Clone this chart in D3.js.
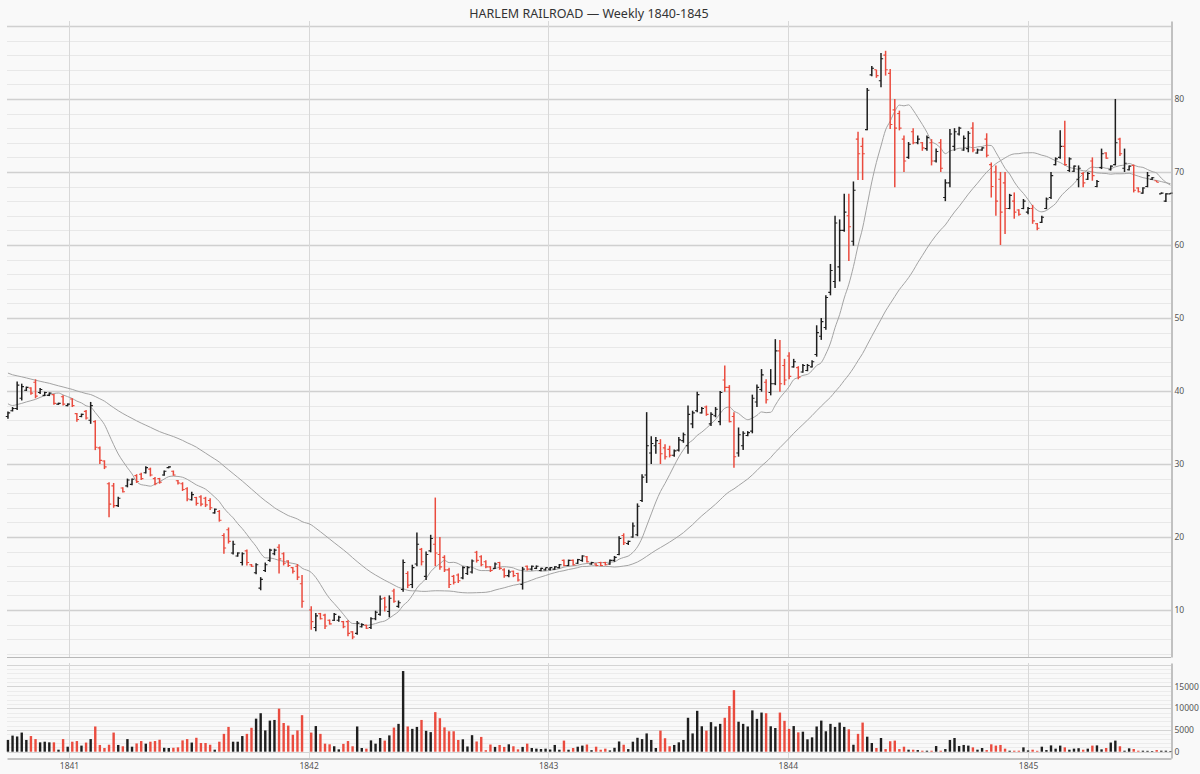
<!DOCTYPE html>
<html>
<head>
<meta charset="utf-8">
<script src="https://cdn.jsdelivr.net/npm/d3@7"></script>
<style>
  html, body { margin: 0; padding: 0; background: #f9f9f9; }
  svg { display: block; font-family: "Noto Sans", "DejaVu Sans", sans-serif; }
</style>
</head>
<body>
<svg id="chart" width="1200" height="774"></svg>
<script>
// Chart text
const title = "HARLEM RAILROAD \u2014 Weekly 1840-1845";

// Weekly bars start here, one every 7 days (null = no quote that week)
const firstWeek = [1840, 8, 30];

const open = [
  36.5, 37.3, 37.6, 39.0, 40.1, 40.4, 41.2, 39.8, 39.4, 39.4,
  39.5, 38.2, 39.2, 38.0, 38.9, 36.9, 36.5, 37.2, 36.0, 35.8,
  32.2, 30.4, 27.3, 27.0, 24.3, 26.7, 27.0, 27.2, 28.4, 28.6,
  28.8, 29.3, 28.0, 28.0, 28.5, 29.5, 29.0, 27.7, 27.3, 26.6,
  25.1, 25.4, 25.5, 25.3, 25.0, 23.3, 23.5, 20.2, 21.0, 17.8,
  17.4, 16.5, 18.1, 16.2, 15.1, 13.0, 15.4, 16.8, 17.7, 18.6,
  17.7, 16.7, 15.8, 16.0, 13.6, null, 10.0, 7.6, 9.5, 9.3,
  8.6, 8.6, 8.6, 8.4, 8.4, 7.0, 6.8, 7.7, 7.9, 7.6,
  8.8, 9.4, 11.6, 9.8, 12.6, 10.5, 12.8, 15.0, 13.5, 16.3,
  18.3, 14.6, 18.1, 19.0, 17.6, 17.2, 15.5, 14.6, 14.8, 14.4,
  15.0, 15.2, 17.9, 17.3, 16.6, 15.9, 15.7, 16.5, 15.5, 14.7,
  15.3, 15.0, 13.5, 16.0, 15.6, 15.7, 15.4, 15.5, 15.6, 15.6,
  15.8, 16.8, 16.1, 16.8, 16.4, 16.8, 17.3, 16.3, 16.3, 16.5,
  16.5, 16.3, 16.8, 17.6, 20.2, 19.1, 20.0, 20.3, 25.0, 28.5,
  31.5, 32.5, 32.8, 32.2, 32.0, 31.2, 31.9, 33.2, 32.5, 35.5,
  37.3, 37.0, 37.8, 35.5, 36.6, 35.8, 41.5, 40.5, 36.5, 31.5,
  32.5, 33.9, 34.5, 38.5, 40.2, 41.2, 39.8, 41.0, 45.5, 43.5,
  44.8, 43.3, 43.2, 42.6, 42.8, 43.3, 45.0, 47.5, 48.7, 53.5,
  55.0, 57.0, 62.0, 64.0, 60.5, 74.5, 73.5, 75.8, 83.3, 84.0,
  82.5, 86.0, 83.5, 78.5, 78.0, 74.5, 72.0, 75.5, 74.0, 74.0,
  73.2, 74.0, 71.5, 74.0, 66.5, 68.5, 73.5, 75.2, 73.0, 73.2,
  76.0, 72.6, 73.0, 74.5, 71.0, 70.0, 69.0, 68.5, 65.0, 66.0,
  64.8, 65.0, 64.5, 65.0, 62.9, 63.1, 65.0, 66.5, 71.0, 72.0,
  73.5, 70.2, 70.1, 69.0, 69.8, 69.0, 71.5, 68.0, 70.6, 72.6,
  70.3, 71.0, 74.5, 70.5, 70.3, 70.9, 67.8, 67.1, 68.0, 69.0,
  68.8, 67.0, 66.0, 67.0
];

const high = [
  37.2, 37.8, 41.3, 41.0, 40.6, 40.5, 41.6, 40.4, 39.9, 39.8,
  39.6, 38.4, 39.4, 38.3, 39.0, 37.0, 36.9, 37.4, 38.5, 36.0,
  32.4, 30.5, 27.5, 27.4, 25.5, 26.8, 28.0, 28.0, 28.6, 28.8,
  29.7, 29.5, 28.2, 28.1, 29.1, 29.7, 29.1, 27.8, 27.5, 26.8,
  26.2, 25.5, 25.7, 25.5, 25.3, 23.9, 23.7, 20.5, 21.3, 19.5,
  17.9, 17.9, 18.3, 16.3, 16.4, 14.5, 16.5, 18.4, 18.4, 19.0,
  17.9, 16.8, 15.9, 16.3, 14.8, null, 10.5, 9.6, 9.6, 9.5,
  8.7, 9.6, 9.2, 8.5, 8.6, 7.1, 8.5, 8.2, 8.0, 9.0,
  9.9, 12.0, 11.8, 12.0, 12.9, 11.3, 16.9, 15.3, 16.2, 20.6,
  18.5, 18.0, 20.3, 25.4, 20.0, 17.5, 15.8, 14.8, 15.0, 16.0,
  16.0, 16.9, 18.1, 17.5, 16.8, 16.0, 16.5, 16.6, 15.7, 15.5,
  15.4, 15.1, 15.9, 16.1, 16.1, 16.1, 15.8, 15.8, 15.9, 16.0,
  16.3, 16.9, 16.9, 16.9, 17.0, 17.5, 17.4, 16.6, 16.4, 16.6,
  16.6, 16.9, 17.4, 20.1, 20.5, 19.5, 22.0, 24.6, 28.6, 37.1,
  33.8, 33.7, 33.4, 32.7, 32.5, 32.0, 33.7, 34.3, 38.0, 37.3,
  39.9, 37.8, 38.0, 37.1, 37.8, 40.0, 43.5, 40.8, 37.1, 35.0,
  34.5, 34.5, 39.5, 40.9, 43.0, 41.6, 43.0, 47.1, 47.0, 44.4,
  45.3, 44.4, 43.4, 43.7, 43.7, 44.2, 49.0, 50.0, 53.1, 57.4,
  64.0, 63.5, 67.0, 67.0, 68.7, 75.5, 74.7, 81.5, 84.5, 84.0,
  86.3, 86.6, 84.1, 80.0, 78.4, 75.0, 74.1, 76.0, 75.0, 74.1,
  75.0, 74.5, 73.2, 74.5, 69.0, 75.9, 76.0, 76.2, 75.0, 75.6,
  76.8, 73.2, 73.4, 75.3, 71.3, 70.9, 70.0, 70.0, 67.0, 67.2,
  64.9, 66.3, 65.2, 65.5, 63.0, 64.0, 66.5, 70.0, 72.0, 75.7,
  77.0, 72.0, 70.9, 70.9, 70.0, 70.0, 72.0, 68.9, 73.2, 72.7,
  70.9, 80.0, 74.7, 73.2, 70.9, 71.0, 67.9, 67.9, 70.0, 69.3,
  68.8, 67.2, 67.1, 67.1
];

const low = [
  36.2, 37.2, 37.4, 38.7, 40.0, 39.5, 39.0, 39.6, 39.3, 39.3,
  38.1, 38.1, 38.0, 37.9, 37.8, 35.8, 36.4, 36.1, 35.5, 31.9,
  30.0, 29.3, 22.7, 24.0, 24.1, 26.1, 26.8, 27.1, 27.4, 27.8,
  28.7, 28.3, 27.1, 27.3, 28.4, 29.4, 28.4, 27.2, 26.3, 24.9,
  25.0, 24.3, 24.2, 24.1, 23.7, 23.2, 22.1, 17.7, 19.1, 17.6,
  17.3, 16.1, 16.1, 15.9, 14.9, 12.7, 15.2, 16.6, 17.5, 15.0,
  16.1, 15.9, 15.0, 14.1, 10.3, null, 7.3, 7.1, 8.7, 7.4,
  8.0, 8.5, 8.4, 7.5, 6.4, 6.0, 6.6, 7.6, 7.4, 7.4,
  8.6, 9.2, 9.8, 9.0, 11.0, 10.3, 12.5, 13.0, 13.0, 16.0,
  16.1, 14.1, 17.9, 16.0, 15.5, 15.2, 13.0, 13.5, 13.7, 14.2,
  14.8, 15.0, 16.5, 16.0, 15.7, 15.2, 15.6, 15.5, 14.4, 14.5,
  14.5, 13.9, 12.8, 15.4, 15.4, 15.6, 15.3, 15.4, 15.4, 15.5,
  15.7, 16.0, 16.0, 16.1, 16.3, 16.6, 16.5, 16.2, 16.0, 16.0,
  16.1, 16.2, 16.6, 17.5, 18.9, 18.9, 19.9, 20.1, 24.8, 27.4,
  30.0, 31.4, 30.0, 30.6, 30.9, 31.0, 31.7, 32.9, 31.4, 34.9,
  37.1, 36.9, 36.6, 35.2, 36.4, 35.3, 39.9, 35.7, 29.5, 31.0,
  31.9, 33.8, 34.2, 37.8, 39.9, 38.3, 39.4, 40.8, 39.9, 40.8,
  41.6, 43.2, 41.6, 42.5, 42.7, 43.2, 44.7, 47.0, 48.4, 53.1,
  54.1, 55.0, 61.8, 57.8, 59.9, 68.9, 68.9, 75.7, 83.1, 82.9,
  81.6, 83.2, 75.9, 67.9, 75.7, 70.0, 71.8, 73.8, 73.8, 72.9,
  72.9, 70.9, 71.3, 70.0, 66.0, 67.9, 72.9, 75.0, 72.9, 72.7,
  72.7, 72.5, 72.9, 72.0, 66.5, 64.0, 60.0, 61.5, 64.9, 63.6,
  64.0, 64.9, 64.2, 62.9, 62.0, 63.0, 64.9, 66.3, 70.9, 71.8,
  70.9, 70.0, 70.0, 67.9, 67.9, 68.9, 68.8, 67.9, 70.4, 71.8,
  70.2, 70.9, 72.2, 70.0, 70.2, 67.2, 67.2, 67.0, 67.9, 68.9,
  68.6, 67.0, 65.9, 67.0
];

const close = [
  37.0, 37.6, 40.8, 40.6, 40.5, 39.7, 39.3, 40.2, 39.8, 39.7,
  38.3, 38.3, 38.2, 38.2, 38.0, 36.1, 36.8, 36.3, 38.0, 32.3,
  30.5, 29.6, 24.5, 24.3, 25.3, 26.2, 27.8, 27.9, 27.6, 28.0,
  29.5, 28.5, 27.3, 27.5, 29.0, 29.6, 28.5, 27.4, 26.5, 25.2,
  25.8, 24.6, 24.5, 24.4, 24.0, 23.8, 22.3, 18.5, 19.4, 19.0,
  17.8, 17.7, 16.5, 16.0, 16.2, 14.2, 16.2, 18.2, 18.2, 17.0,
  16.4, 16.1, 15.3, 14.5, 11.2, null, 8.4, 9.2, 8.8, 7.8,
  8.1, 9.4, 9.0, 7.7, 6.8, 6.3, 8.2, 8.0, 7.5, 8.8,
  9.7, 11.5, 10.4, 11.6, 11.2, 11.0, 16.5, 13.4, 15.8, 19.0,
  16.6, 17.6, 19.8, 17.8, 15.9, 15.5, 13.5, 13.8, 14.0, 15.8,
  15.8, 16.7, 16.8, 16.2, 15.9, 15.4, 16.3, 15.7, 14.7, 15.2,
  14.7, 14.1, 15.6, 15.6, 16.0, 16.0, 15.7, 15.8, 15.8, 15.9,
  16.2, 16.1, 16.8, 16.2, 16.9, 17.4, 16.6, 16.5, 16.1, 16.1,
  16.2, 16.8, 17.2, 19.8, 19.2, 19.4, 21.5, 24.2, 28.2, 32.5,
  32.8, 33.2, 31.4, 31.0, 31.2, 31.8, 33.3, 34.0, 36.8, 37.0,
  39.5, 37.6, 36.8, 36.8, 37.5, 39.8, 40.5, 35.8, 31.0, 34.0,
  34.2, 34.3, 39.0, 40.5, 42.2, 38.8, 41.0, 45.5, 41.0, 41.5,
  42.0, 44.0, 41.9, 43.5, 43.5, 44.0, 48.0, 49.5, 52.8, 56.5,
  63.0, 62.0, 64.5, 62.5, 67.5, 72.5, 72.5, 81.2, 84.2, 83.2,
  85.5, 84.0, 76.5, 76.0, 76.0, 71.5, 73.8, 74.0, 74.5, 73.3,
  74.7, 71.5, 72.8, 70.5, 68.5, 75.2, 75.5, 76.0, 74.6, 75.3,
  73.0, 73.0, 73.3, 72.3, 68.0, 66.0, 64.5, 65.0, 66.8, 64.5,
  64.2, 66.0, 65.0, 63.3, 62.3, 63.8, 66.3, 69.5, 71.8, 73.5,
  71.0, 71.8, 70.8, 70.5, 68.5, 69.8, 69.5, 68.7, 72.5, 71.9,
  70.8, 74.0, 72.5, 71.2, 70.8, 67.5, 67.3, 67.8, 69.5, 69.2,
  68.6, 67.1, 67.0, 67.1
];

const volume = [
  2700, 3700, 3500, 4400, 2700, 3600, 2900, 2150, 2300, 2150,
  2150, 460, 2900, 1150, 2300, 2450, 1400, 2100, 2900, 5800,
  1550, 850, 1600, 4400, 1550, 1250, 2900, 1150, 1900, 2450,
  1850, 2300, 2450, 2750, 900, 850, 900, 1000, 2600, 2900,
  2100, 3200, 2000, 2000, 1600, 460, 2300, 4100, 5700, 2300,
  2300, 3600, 4100, 5500, 7600, 8850, 4900, 7150, 7300, 9900,
  6600, 6000, 3900, 4900, 8400, null, 4400, 5900, 4100, 1850,
  1700, 1250, 540, 1800, 2450, 1250, 5800, 850, 700, 2600,
  1850, 3150, 2550, 3750, 5550, 6400, 18550, 5800, 5250, 5700,
  7300, 4800, 4500, 9100, 7700, 5600, 4700, 4700, 2700, 2850,
  1200, 3800, 2350, 3400, 350, 1650, 1100, 1550, 1100, 1700,
  1250, 540, 1100, 1850, 850, 700, 620, 700, 500, 1550,
  450, 2550, 450, 850, 1150, 1400, 1650, 350, 1150, 450,
  700, 300, 900, 2350, 1600, 600, 2300, 3200, 2900, 4200,
  2700, 850, 4850, 3100, 1250, 1550, 2150, 2700, 7800, 4200,
  9400, 5850, 4850, 6800, 5800, 6400, 7800, 10500, 14150, 6900,
  6400, 5800, 9500, 7550, 9000, 8850, 5850, 5450, 9000, 7100,
  5250, 5900, 4450, 4600, 2850, 3300, 5800, 7150, 4700, 6400,
  5700, 6700, 5700, 5150, 1600, 4100, 6700, 3450, 2000, 850,
  3150, 600, 2400, 2550, 600, 1150, 460, 460, 380, 230,
  230, 230, 1300, 230, 600, 2700, 3150, 1300, 1550, 1400,
  1000, 460, 850, 380, 1700, 1400, 1550, 700, 230, 230,
  230, 1000, 300, 460, 200, 1150, 380, 1450, 700, 1400,
  1000, 460, 700, 800, 460, 700, 1400, 1450, 540, 850,
  2100, 2550, 1250, 230, 770, 620, 230, 230, 200, 150,
  380, 230, 230, 150
];

// Closes of the weeks before the first visible bar (read back from where the averages start)
const priorClose = [
  47.0, 46.5, 46.0, 46.5, 46.0, 45.5, 46.0, 45.5, 45.0, 45.5,
  45.0, 44.5, 45.0, 44.5, 44.5, 44.0, 43.5, 43.5, 43.0, 43.0,
  42.5, 42.5, 42.0, 42.0, 41.5, 41.5, 41.0, 41.0, 40.5, 41.0,
  40.0, 39.5, 39.0, 38.5, 38.0, 37.5, 37.5, 37.5, 38.0
];

const maPeriods = [10, 40];
const priceTicks = [10, 20, 30, 40, 50, 60, 70, 80];
const volumeTicks = [0, 5000, 10000, 15000];
const yearTicks = [1841, 1842, 1843, 1844, 1845];

// Layout
const left = 7, right = 1171;
const priceTop = 21, priceBottom = 657;
const volTop = 663, volBottom = 758;
const upColor = '#1e1e1e', downColor = '#ea4b3e';

const svg = d3.select('#chart');

const bars = close.map((c, i) => ({
  date: new Date(firstWeek[0], firstWeek[1], firstWeek[2] + 7 * i),
  o: open[i], h: high[i], l: low[i], c: c, v: volume[i]
})).filter(d => d.c != null);

const x = d3.scaleTime()
  .domain([new Date(1840, 8, 28, 13), new Date(1845, 7, 6, 19)])
  .range([left, right]);
const y = d3.scaleLinear().domain([3.56, 90.68]).range([priceBottom, priceTop]);
const yv = d3.scaleLinear().domain([-1450, 20400]).range([volBottom, volTop]);

// Title
svg.append('text')
  .attr('x', (left + right) / 2)
  .attr('y', 18)
  .attr('text-anchor', 'middle')
  .style('font-size', '12.5px')
  .attr('fill', '#333')
  .text(title);

// Horizontal grid - price panel (every 2, darker every 10)
svg.append('g')
  .selectAll('line')
  .data(d3.range(4, 91, 2))
  .join('line')
  .attr('x1', left).attr('x2', right)
  .attr('y1', d => Math.round(y(d)) + 0.5)
  .attr('y2', d => Math.round(y(d)) + 0.5)
  .attr('stroke', d => d % 10 === 0 ? '#d0d0d0' : '#e8e8e8')
  .attr('stroke-width', d => d % 10 === 0 ? 1.3 : 1);

// Horizontal grid - volume panel
svg.append('g')
  .selectAll('line')
  .data(d3.range(0, 20001, 1000))
  .join('line')
  .attr('x1', left).attr('x2', right)
  .attr('y1', d => Math.round(yv(d)) + 0.5)
  .attr('y2', d => Math.round(yv(d)) + 0.5)
  .attr('stroke', d => d % 5000 === 0 ? '#d4d4d4' : '#ececec');

// Year gridlines
const yearDates = yearTicks.map(yr => new Date(yr, 0, 1));
const vgrid = svg.append('g');
yearDates.forEach(d => {
  const px = Math.round(x(d)) + 0.5;
  vgrid.append('line').attr('x1', px).attr('x2', px)
    .attr('y1', priceTop).attr('y2', priceBottom).attr('stroke', '#d8d8d8');
  vgrid.append('line').attr('x1', px).attr('x2', px)
    .attr('y1', volTop).attr('y2', volBottom).attr('stroke', '#d8d8d8');
});

// Price panel bottom border
svg.append('line')
  .attr('x1', left).attr('x2', right)
  .attr('y1', priceBottom + 0.5).attr('y2', priceBottom + 0.5)
  .attr('stroke', '#b8b8b8');

// Moving averages
const allCloses = priorClose.concat(bars.map(d => d.c));
function movingAverage(n) {
  return bars.map((d, i) => {
    const j = i + priorClose.length;
    return { date: d.date, v: d3.mean(allCloses.slice(Math.max(0, j - n + 1), j + 1)) };
  });
}
const line = d3.line().x(d => x(d.date)).y(d => y(d.v)).curve(d3.curveMonotoneX);
maPeriods.forEach(n => {
  svg.append('path')
    .datum(movingAverage(n))
    .attr('fill', 'none')
    .attr('stroke', '#a3a3a3')
    .attr('stroke-width', 1)
    .attr('d', line);
});

// OHLC bars
const barColor = d => d.c >= d.o ? upColor : downColor;
const ohlc = svg.append('g');
ohlc.selectAll('path.hl')
  .data(bars)
  .join('path')
  .attr('class', 'hl')
  .attr('d', d => `M${x(d.date)},${y(d.h)}V${y(d.l)}`)
  .attr('stroke', barColor)
  .attr('stroke-width', 1.5);
ohlc.selectAll('path.oc')
  .data(bars)
  .join('path')
  .attr('class', 'oc')
  .attr('d', d => {
    const cx = x(d.date);
    return `M${cx - 2.2},${y(d.o)}H${cx}M${cx},${y(d.c)}H${cx + 2.2}`;
  })
  .attr('stroke', barColor)
  .attr('stroke-width', 1.1);

// Volume bars
svg.append('g')
  .selectAll('rect')
  .data(bars.filter(d => d.v != null))
  .join('rect')
  .attr('x', d => x(d.date) - 1.2)
  .attr('width', 2.4)
  .attr('y', d => yv(d.v))
  .attr('height', d => yv(0) - yv(d.v))
  .attr('fill', barColor);

// Axes
const styleAxis = g => {
  g.select('.domain').attr('stroke', '#8a8a8a');
  g.selectAll('text').attr('fill', '#555').style('font-size', '8.5px')
    .style('font-family', '"Noto Sans", "DejaVu Sans", sans-serif');
};

svg.append('g')
  .attr('transform', `translate(${right + 0.5},0)`)
  .call(d3.axisRight(y).tickValues(priceTicks).tickSize(0).tickSizeOuter(0).tickPadding(3))
  .call(styleAxis);

svg.append('g')
  .attr('transform', `translate(${right + 0.5},0)`)
  .call(d3.axisRight(yv).tickValues(volumeTicks).tickFormat(d3.format('d'))
    .tickSize(0).tickSizeOuter(0).tickPadding(3))
  .call(styleAxis);

svg.append('g')
  .attr('transform', `translate(0,${volBottom + 0.5})`)
  .call(d3.axisBottom(x).tickValues(yearDates).tickFormat(d3.timeFormat('%Y'))
    .tickSize(0).tickSizeOuter(0).tickPadding(4))
  .call(styleAxis);
</script>
</body>
</html>
